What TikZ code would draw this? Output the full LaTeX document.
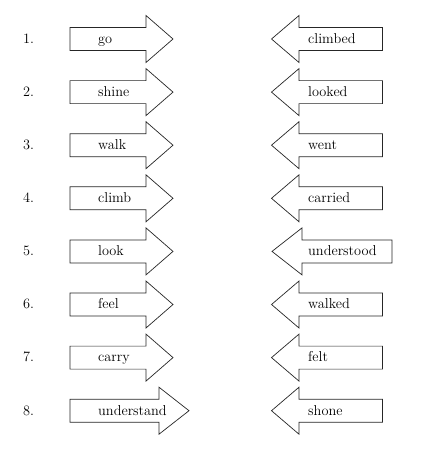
\documentclass[tikz,border=0pt]{standalone}
\usepackage{fontspec}
\begin{document}
\begin{tikzpicture}[x=1pt,y=-1pt,
  shapeline/.style={draw=black!85,line width=0.7pt,line join=miter,fill=white},
  word/.style={anchor=base west,inner sep=0pt,font=\fontsize{14.3}{17}\selectfont},
  num/.style={anchor=base west,inner sep=0pt,font=\fontsize{14.3}{17}\selectfont}]
\useasboundingbox (0,0) rectangle (436,463);
\def\hb{11.5}\def\hh{23.5}
% right arrows: index/row, body-left, head-base, tip, word
\foreach \i/\L/\B/\T/\w in {1/70/146/173/go,2/70/146/173/shine,3/70/146/173/walk,4/70/146/173/climb,5/70/146/173/look,6/70/146/173/feel,7/70/146/173/carry,8/70/159/189/understand}{
  \pgfmathsetmacro{\c}{39+53.1*(\i-1)}
  \draw[shapeline] (\L,\c-\hb) -- (\B,\c-\hb) -- (\B,\c-\hh) -- (\T,\c) -- (\B,\c+\hh) -- (\B,\c+\hb) -- (\L,\c+\hb) -- cycle;
  \node[word] (r\i) at (98,\c+4.3) {\w};
  \node[num] (n\i) at (23,\c+4.3) {\i.};
}
% left arrows: index, tip, head-base, body-right, word
\foreach \i/\T/\B/\R/\w in {1/271.5/299/382.5/climbed,2/271.5/299/382.5/looked,3/271.5/299/382.5/went,4/271.5/299/382.5/carried,5/272/302/392/understood,6/271.5/299/382.5/walked,7/271.5/299/382.5/felt,8/271.5/299/382.5/shone}{
  \pgfmathsetmacro{\c}{39+53.1*(\i-1)}
  \draw[shapeline] (\R,\c-\hb) -- (\B,\c-\hb) -- (\B,\c-\hh) -- (\T,\c) -- (\B,\c+\hh) -- (\B,\c+\hb) -- (\R,\c+\hb) -- cycle;
  \node[word] (l\i) at (308,\c+4.3) {\w};
}
\end{tikzpicture}
\end{document}
